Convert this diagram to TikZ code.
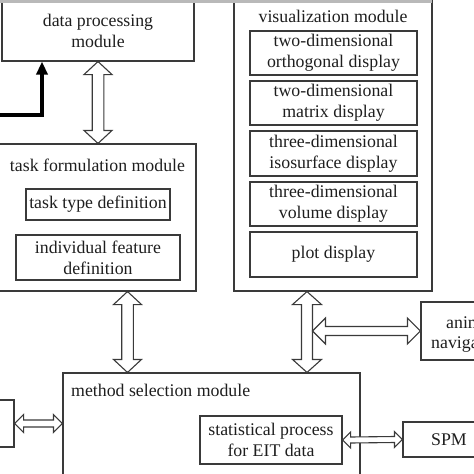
\documentclass[tikz,border=0pt]{standalone}
\usepackage{fontspec}
\setmainfont{Liberation Serif}
\usetikzlibrary{calc,arrows.meta}
\definecolor{linec}{HTML}{3A3A3A}
\definecolor{textc}{HTML}{1E1E1E}
\newcommand\fs{\fontsize{17.8}{21}\selectfont}
\newcommand\vdbl[5]{%
 \draw[blk] (#1) -- ($(#1)+(#3,#5)$) -- ($(#1)+(#4,#5)$) -- ($(#2)+(#4,-#5)$) -- ($(#2)+(#3,-#5)$) -- (#2) -- ($(#2)+(-#3,-#5)$) -- ($(#2)+(-#4,-#5)$) -- ($(#1)+(-#4,#5)$) -- ($(#1)+(-#3,#5)$) -- cycle;}
\newcommand\hdbl[5]{%
 \draw[blk] (#1) -- ($(#1)+(#5,-#3)$) -- ($(#1)+(#5,-#4)$) -- ($(#2)+(-#5,-#4)$) -- ($(#2)+(-#5,-#3)$) -- (#2) -- ($(#2)+(-#5,#3)$) -- ($(#2)+(-#5,#4)$) -- ($(#1)+(#5,#4)$) -- ($(#1)+(#5,#3)$) -- cycle;}
\begin{document}
\begin{tikzpicture}[x=1pt,y=-1pt,
 box/.style={draw=linec,line width=1.1pt,inner sep=0pt,align=center,font=\fs,text=textc},
 lbl/.style={inner sep=0pt,font=\fs,text=textc,align=center},
 blk/.style={draw=linec,line width=1.1pt,fill=white,line join=miter}]
\useasboundingbox (0,0) rectangle (474,474);
\clip (0,0) rectangle (474,474);
% main boxes
\node[box,minimum width=192pt,minimum height=61pt] (dp) at (98,30.5) {data processing\\module};
\node[box,minimum width=197pt,minimum height=147pt] (tf) at (97.5,217.5) {};
\node[lbl] (tft) at (97.5,165) {task formulation module};
\node[box,minimum width=144pt,minimum height=31pt] (ttd) at (98,204.5) {task type definition};
\node[box,minimum width=164pt,minimum height=45pt] (ifd) at (98,257.5) {individual feature\\definition};
\node[box,minimum width=198pt,minimum height=292pt] (vis) at (333,145) {};
\node[lbl] (vist) at (333,16) {visualization module};
\node[box,minimum width=167pt,minimum height=44pt] (v1) at (333.5,53) {two-dimensional\\orthogonal display};
\node[box,minimum width=167pt,minimum height=44pt] (v2) at (333.5,103) {two-dimensional\\matrix display};
\node[box,minimum width=167pt,minimum height=45pt] (v3) at (333.5,153.5) {three-dimensional\\isosurface display};
\node[box,minimum width=167pt,minimum height=44pt] (v4) at (333.5,204) {three-dimensional\\volume display};
\node[box,minimum width=167pt,minimum height=45pt] (v5) at (333.5,254.5) {plot display};
\node[box,minimum width=69pt,minimum height=58pt] (anim) at (455.5,331) {};
\node[lbl,anchor=west] (animt1) at (446,323) {animation};
\node[lbl,anchor=west] (animt2) at (431,345) {navigation};
\node[box,minimum width=297pt,minimum height=117pt] (ms) at (211.5,431.5) {};
\node[lbl,anchor=west] (mst) at (71,390) {method selection module};
\node[box,minimum width=24pt,minimum height=47pt] (lb) at (2,423.5) {};
\node[box,minimum width=142pt,minimum height=48pt] (st) at (271,440) {statistical process\\for EIT data};
\node[box,minimum width=92pt,minimum height=35pt] (spm) at (449,439.5) {SPM};
% top strip
\fill[gray!55] (0,0) rectangle (432,2.5);
% thick arrow
\coordinate (tin) at (-3,115);
\coordinate (dpin) at ([xshift=-56pt]dp.south);
\draw[line width=3.5pt,-{Triangle[length=13pt,width=11pt]}] (tin) -| (dpin);
% hollow double arrows
\coordinate (a1t) at (dp.south);
\coordinate (a1b) at (dp.south |- tf.north);
\vdbl{a1t}{a1b}{14}{5.8}{13}
\coordinate (a2t) at ([xshift=30pt]tf.south);
\coordinate (a2b) at (a2t |- ms.north);
\vdbl{a2t}{a2b}{14}{5.8}{13}
\coordinate (a3t) at ([xshift=-26pt]vis.south);
\coordinate (a3b) at (a3t |- ms.north);
\vdbl{a3t}{a3b}{14.5}{5.5}{13}
\coordinate (a3r) at ([xshift=5.5pt]a3t);
\coordinate (h1l) at (a3r |- anim.west);
\hdbl{h1l}{anim.west}{13}{4.5}{13}
\coordinate (h2r) at (lb.east -| ms.west);
\hdbl{lb.east}{h2r}{9}{3.5}{9}
\hdbl{st.east}{spm.west}{8}{3}{8}
\end{tikzpicture}
\end{document}
